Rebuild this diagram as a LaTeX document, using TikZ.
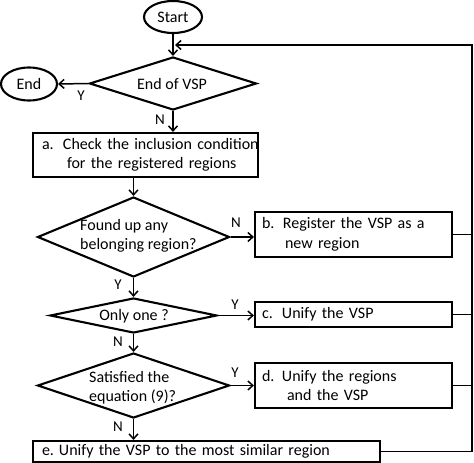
\documentclass[tikz,border=0pt]{standalone}
\usepackage{fontspec}
\setmainfont{Carlito}
\usetikzlibrary{shapes.geometric,arrows.meta}
\begin{document}
\begin{tikzpicture}[x=1pt,y=-1pt,
  every node/.style={font=\fontsize{16}{19.5}\selectfont},
  line/.style={line width=1.5pt},
  arr/.style={line, -{Straight Barb[length=5pt,width=9pt]}},
  term/.style={ellipse, draw, line width=2.1pt, inner sep=0pt},
  dec/.style={diamond, draw, line width=2.1pt, inner sep=0pt},
  proc/.style={rectangle, draw, line width=2.1pt, inner xsep=7pt, inner ysep=0pt, align=left},
  txt/.style={inner sep=0pt, align=left},
  lbl/.style={inner sep=0pt, font=\fontsize{15}{18}\selectfont}]
\useasboundingbox (0,0) rectangle (474,463);

\node[term, minimum width=58pt, minimum height=32pt] (start) at (173,17) {Start};
\node[dec, minimum width=167pt, minimum height=53pt] (d1) at (173,83.5) {};
\node[txt] (t1) at (172,84) {End of VSP};
\node[term, minimum width=56pt, minimum height=33pt] (end) at (29,84) {End};

\node[proc, minimum width=225pt, minimum height=44pt, inner xsep=9pt, text width=207pt] (a) at (145.5,155)
  {\mbox{\makebox[21pt][l]{a.}Check the inclusion condition}\\\mbox{\hspace*{25pt}for the registered regions}};

\node[dec, minimum width=192pt, minimum height=80pt] (d2) at (133.5,237) {};
\node[txt, anchor=west] (t2) at (80,236) {Found up any\\belonging region?};
\node[proc, minimum width=197pt, minimum height=45pt, text width=183pt] (b) at (353.5,234.5)
  {\mbox{\makebox[21pt][l]{b.}Register the VSP as a}\\\mbox{\hspace*{23pt}new region}};

\node[dec, minimum width=167pt, minimum height=35pt] (d3) at (133.5,315.5) {};
\node[txt] (t3) at (134,316) {Only one ?};
\node[proc, minimum width=197pt, minimum height=25pt, text width=183pt] (c) at (353.5,314.5)
  {\mbox{\makebox[20pt][l]{c.}Unify the VSP}};

\node[dec, minimum width=192pt, minimum height=65pt] (d4) at (133.5,385.5) {};
\node[txt, anchor=west] (t4) at (89,387.5) {Satisfied the\\equation (9)?};
\node[proc, minimum width=197pt, minimum height=45pt, text width=183pt] (d) at (353.5,385.5)
  {\mbox{\makebox[20pt][l]{d.}Unify the regions}\\\mbox{\hspace*{25pt}and the VSP}};

\node[proc, minimum width=347pt, minimum height=21pt, inner xsep=9pt, text width=329pt] (e) at (206.5,451.5)
  {\mbox{\makebox[17pt][l]{e.}Unify the VSP to the most similar region}};

\coordinate (rx) at (472,45);

\draw[arr] (start) -- (d1);
\draw[arr] (d1.west) -- (end.east);
\draw[arr] (d1.south) -- (d1.south |- a.north);
\draw[arr] (d2.north |- a.south) -- (d2.north);
\draw[arr] (d2.south) -- (d3.north);
\draw[arr] (d3.south) -- (d4.north);
\draw[arr] (d4.south) -- (d4.south |- e.north);
\draw[arr] (d2.east) -- (d2.east -| b.west);
\draw[arr] (d3.east) -- (d3.east -| c.west);
\draw[arr] (d4.east) -- (d4.east -| d.west);
\draw[line] (b.east) -- (b.east -| rx);
\draw[line] (c.east) -- (c.east -| rx);
\draw[line] (d.east) -- (d.east -| rx);
\draw[arr] (e.east) -| (rx) -- ([xshift=2pt]rx -| start.south);

\node[lbl] (ly1) at (81,96) {Y};
\node[lbl] (ln1) at (160,120) {N};
\node[lbl] (ln2) at (236,223) {N};
\node[lbl] (ly2) at (118,285) {Y};
\node[lbl] (ly3) at (235,305) {Y};
\node[lbl] (ln3) at (118,342) {N};
\node[lbl] (ly4) at (235,373) {Y};
\node[lbl] (ln4) at (118,427) {N};
\end{tikzpicture}
\end{document}
